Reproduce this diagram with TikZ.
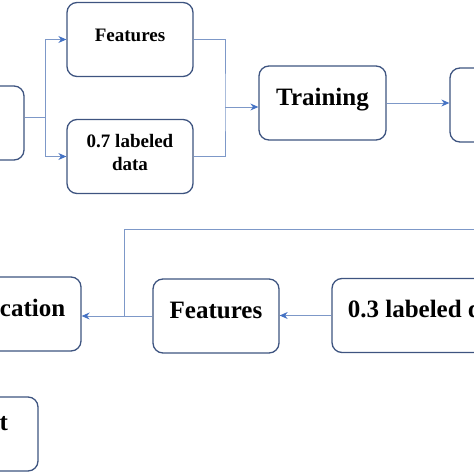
\documentclass[tikz,border=0pt]{standalone}
\usepackage{fontspec}
\setmainfont{Liberation Serif}
\usepackage{xcolor}
\usepackage{tikz}
\usetikzlibrary{arrows.meta,calc}

\definecolor{boxline}{RGB}{62,84,128}
\definecolor{flowline}{RGB}{125,152,200}
\definecolor{flowtip}{RGB}{68,114,196}

\tikzset{
  stage/.style={draw=boxline, line width=1.3pt, rounded corners=10pt,
    minimum width=126pt, minimum height=74pt, align=center,
    font=\bfseries\fontsize{25}{30}\selectfont, text height=18pt, text depth=14pt},
  stagesmall/.style={stage, font=\bfseries\fontsize{19}{23}\selectfont,
    text height=14pt, text depth=11pt},
  flow/.style={draw=flowline, line width=1pt},
  flowarrow/.style={flow, -{Stealth[length=8pt,width=7pt,color=flowtip]}}
}

\begin{document}
\begin{tikzpicture}[x=1pt,y=-1pt]
        \useasboundingbox (0,0) rectangle (474,474);
        \clip (0,0) rectangle (474,474);

        % Top row
        \node[stage] (data) at (-39,123) {};
        \node[stagesmall] (feat) at (130,39.5) {Features};
        \node[stagesmall, text height=36pt, text depth=9pt] (labeled) at (130,156.5) {0.7 labeled\\data};
        \node[stage, minimum width=127pt] (training) at (322.5,103) {Training};
        \node[stage] (model) at (513,105) {};

        % Bottom row
        \node[stage, minimum width=176pt] (classif) at (-7,314) {Classification};
        \node[stage] (featb) at (216,316) {Features};
        \node[stage, minimum width=199pt] (test) at (431.5,315.5) {0.3 labeled data};
        \node[stage, minimum width=128pt, text height=14pt, text depth=22pt] (result) at (-26,434) {Result};

        % Connectors
        \coordinate (split) at (45,117);
        \coordinate (merge) at (225,107);
        \coordinate (back) at (124,229);
        \draw[flow] (split -| data.east) -- (split);
        \draw[flowarrow] (split) |- (feat.west);
        \draw[flowarrow] (split) |- (labeled.west);
        \draw[flow] (feat.east) -| (merge) |- (labeled.east);
        \draw[flowarrow] (merge) -- (merge -| training.west);
        \draw[flowarrow] (training.east) -- (training.east -| model.west);
        \draw[flowarrow] (test.west) -- (test.west -| featb.east);
        \draw[flowarrow] (featb.west) -- (featb.west -| classif.east);
        \draw[flow] (model.south) |- (back) -- (back |- featb.west);

      \end{tikzpicture}
\end{document}
